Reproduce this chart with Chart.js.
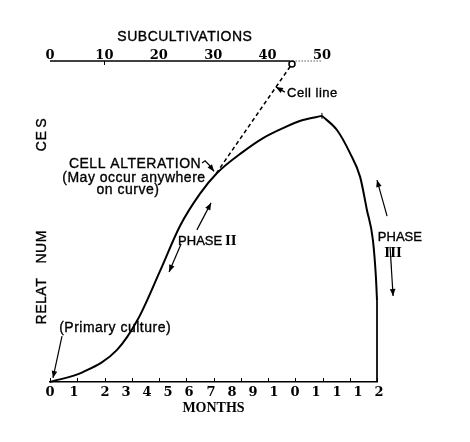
<!DOCTYPE html>
<html>
<head>
<meta charset="utf-8">
<script src="https://cdn.jsdelivr.net/npm/chart.js@4.4.1/dist/chart.umd.min.js"></script>
<style>
  html, body { margin: 0; background: #fff; }
  canvas { display: block; }
</style>
</head>
<body>
<canvas id="hayflick" width="470" height="442"></canvas>
<script>
// growth curve: months in culture vs relative cell number (0-100)
// rising part (phase I + II) up to the peak
const RISE_MONTHS = [0, 1.21, 2.46, 3.23, 4.04, 4.77, 5.50, 6.13, 7.08, 7.82, 8.55, 9.28, 9.98];
const RISE_CELLS  = [0, 3.1, 10.0, 19.6, 34.6, 48.6, 58.6, 65.1, 71.7, 76.0, 79.1, 81.6, 82.9];
// falling part (phase III) from the peak
const FALL_MONTHS = [9.98, 10.53, 11.01, 11.38, 11.63, 11.85, 11.96, 12.0];
const FALL_CELLS  = [82.9, 78.5, 71.3, 63.9, 53.6, 44.2, 32.7, 25.5];

// phase III tail drops straight to the axis
const DROP_MONTHS = [12, 12];
const DROP_CELLS  = [25.5, 0];

// cell line branch (dashed) from the alteration point up to the top scale
const CELL_LINE_MONTHS = [6.10, 8.88];
const CELL_LINE_CELLS  = [65.0, 99.1];

// subcultivation scale on top
const SUB_TICKS  = [0, 10, 20, 30, 40, 50];
const SUB_SOLID  = [0, 44.1];
const SUB_DOTTED = [44.6, 50];

// months scale at the bottom (labels as printed)
const MONTH_TICKS    = [0, 1, 2, 3, 4, 5, 6, 7, 8, 9, 10, 11, 12];
const MONTH_LABELS   = ['0', '1', '2', '3', '4', '5', '6', '7', '8', '9', '1', '0', '1', '1', '1', '2'];
const MONTH_LABEL_AT = [0, 0.88, 2.02, 2.79, 3.56, 4.33, 5.10, 5.91, 6.68, 7.45, 8.22, 8.99, 9.76, 10.53, 11.30, 12.07];

const SANS = '"Liberation Sans", Arial, sans-serif';
const DIGITS = '"DejaVu Serif", serif';
const SERIF = '"Liberation Serif", "Times New Roman", serif';

const pts = (xs, ys) => xs.map((x, i) => ({ x, y: ys[i] }));

// text and arrows, anchored in data units
const TEXTS = [
  { t: 'SUBCULTIVATIONS', m: 4.95, v: 107.5, align: 'center', size: 14 },
  { t: 'RELAT', m: -0.29, v: 25.2, rot: true, size: 14 },
  { t: 'NUM', m: -0.29, v: 42.1, rot: true, size: 14 },
  { t: 'CE', m: -0.29, v: 75.1, rot: true, size: 14 },
  { t: 'S', m: -0.29, v: 80.7, rot: true, size: 14 },
  { t: 'Cell line', m: 8.70, v: 90.0, align: 'left', size: 13 },
  { t: 'CELL ALTERATION', m: 3.12, v: 67.9, align: 'center', size: 14 },
  { t: '(May occur anywhere', m: 3.08, v: 63.6, align: 'center', size: 14 },
  { t: 'on curve)', m: 2.86, v: 59.8, align: 'center', size: 14 },
  { t: 'PHASE', m: 4.70, v: 43.9, align: 'left', size: 13, tight: true },
  { t: 'II', m: 6.42, v: 43.9, align: 'left', serif: true },
  { t: 'PHASE', m: 12.84, v: 44.9, align: 'center', size: 13, tight: true },
  { t: 'III', m: 12.59, v: 40.2, align: 'center', serif: true },
  { t: '(Primary culture)', m: 2.39, v: 16.8, align: 'center', size: 14 },
];

const ARROWS = [
  [[0.44, 14.3], [0.11, 1.25]],
  [[8.62, 90.3], [8.29, 91.9]],
  [[5.58, 68.2], [5.69, 68.9], [5.84, 67.6], [6.02, 65.6]],
  [[5.39, 47.4], [5.91, 55.8]],
  [[4.81, 43.0], [4.37, 34.3]],
  [[12.37, 51.7], [12.0, 62.9]],
  [[12.48, 42.1], [12.59, 26.8]],
];

function arrowHead(ctx, x0, y0, x1, y1) {
  const a = Math.atan2(y1 - y0, x1 - x0), len = 7, w = 2.8;
  ctx.beginPath();
  ctx.moveTo(x1, y1);
  ctx.lineTo(x1 - len * Math.cos(a) + w * Math.sin(a), y1 - len * Math.sin(a) - w * Math.cos(a));
  ctx.lineTo(x1 - len * Math.cos(a) - w * Math.sin(a), y1 - len * Math.sin(a) + w * Math.cos(a));
  ctx.closePath();
  ctx.fill();
}

const notes = {
  id: 'notes',
  afterDraw(chart) {
    const { ctx, scales: { x, y, xTop } } = chart;
    ctx.save();
    ctx.fillStyle = '#000';
    ctx.strokeStyle = '#000';

    // inward month ticks and the one tick under "10"
    ctx.lineWidth = 1;
    const y0 = y.getPixelForValue(0), yTop = y.getPixelForValue(100);
    MONTH_TICKS.forEach(m => {
      const px = Math.round(x.getPixelForValue(m)) + 0.5;
      ctx.beginPath(); ctx.moveTo(px, y0); ctx.lineTo(px, y0 - 4); ctx.stroke();
    });
    const t10 = Math.round(xTop.getPixelForValue(10)) + 0.5;
    ctx.beginPath(); ctx.moveTo(t10, yTop); ctx.lineTo(t10, yTop + 4); ctx.stroke();

    // hand lettering is heavier than the font, so stroke it lightly too
    ctx.textBaseline = 'middle';
    TEXTS.forEach(n => {
      const px = x.getPixelForValue(n.m), py = y.getPixelForValue(n.v);
      ctx.font = n.serif ? `bold 15px ${SERIF}` : `${n.size}px ${SANS}`;
      ctx.letterSpacing = n.serif || n.tight ? '0px' : '0.5px';
      ctx.lineWidth = 0.35;
      if (n.rot) {
        ctx.save();
        ctx.translate(px, py);
        ctx.rotate(-Math.PI / 2);
        ctx.textAlign = 'center';
        ctx.fillText(n.t, 0, 0);
        ctx.strokeText(n.t, 0, 0);
        ctx.restore();
      } else {
        ctx.textAlign = n.align;
        ctx.fillText(n.t, px, py);
        if (!n.serif) ctx.strokeText(n.t, px, py);
      }
    });
    ctx.letterSpacing = '0px';

    ctx.lineWidth = 1.2;
    ARROWS.forEach(a => {
      const p = a.map(([m, v]) => [x.getPixelForValue(m), y.getPixelForValue(v)]);
      ctx.beginPath();
      ctx.moveTo(p[0][0], p[0][1]);
      p.slice(1).forEach(q => ctx.lineTo(q[0], q[1]));
      ctx.stroke();
      const n = p.length;
      arrowHead(ctx, p[n - 2][0], p[n - 2][1], p[n - 1][0], p[n - 1][1]);
    });
    ctx.restore();
  }
};

new Chart(document.getElementById('hayflick'), {
  type: 'line',
  data: {
    datasets: [
      {
        data: pts(RISE_MONTHS, RISE_CELLS),
        borderColor: '#000', borderWidth: 2,
        cubicInterpolationMode: 'monotone', pointRadius: 0, clip: false,
      },
      {
        data: pts(FALL_MONTHS, FALL_CELLS),
        borderColor: '#000', borderWidth: 2,
        cubicInterpolationMode: 'monotone',
        pointRadius: c => c.dataIndex === 0 ? 3 : 0,
        pointStyle: 'line', rotation: 90,
        pointBorderColor: '#000', pointBorderWidth: 1,
        clip: false,
      },
      {
        data: pts(DROP_MONTHS, DROP_CELLS),
        borderColor: '#000', borderWidth: 1, pointRadius: 0, clip: false,
      },
      {
        data: pts(CELL_LINE_MONTHS, CELL_LINE_CELLS),
        borderColor: '#000', borderWidth: 1.5, borderDash: [4, 3],
        pointRadius: [0, 3], pointStyle: 'circle',
        pointBackgroundColor: '#fff', pointBorderColor: '#000', pointBorderWidth: 1.5,
        clip: false,
      },
      {
        xAxisID: 'xTop',
        data: SUB_SOLID.map(s => ({ x: s, y: 100 })),
        borderColor: '#000', borderWidth: 1.5, pointRadius: 0, clip: false,
      },
      {
        xAxisID: 'xTop',
        data: SUB_DOTTED.map(s => ({ x: s, y: 100 })),
        borderColor: '#000', borderWidth: 1, borderDash: [1, 2], pointRadius: 0, clip: false,
      },
    ]
  },
  options: {
    responsive: false,
    animation: false,
    devicePixelRatio: 1,
    layout: { padding: { left: 50, right: 93, top: 0, bottom: 0 } },
    plugins: { legend: { display: false }, tooltip: { enabled: false } },
    scales: {
      x: {
        type: 'linear', position: 'bottom', min: 0, max: 12,
        afterBuildTicks: s => { s.ticks = MONTH_LABEL_AT.map(v => ({ value: v })); },
        afterFit: s => { s.height = 60; },
        grid: { display: false, drawTicks: false },
        border: { display: true, color: '#000', width: 1.5 },
        ticks: {
          autoSkip: false, maxRotation: 0, padding: 3, color: '#000',
          font: { family: DIGITS, size: 13, weight: 'bold' },
          callback: (v, i) => MONTH_LABELS[i],
        },
        title: {
          display: true, text: 'MONTHS', color: '#000',
          font: { family: SERIF, size: 14, weight: 'bold' },
          padding: { top: 0, bottom: 25 },
        },
      },
      xTop: {
        type: 'linear', position: 'top', min: 0, max: 60.11,
        afterBuildTicks: s => { s.ticks = SUB_TICKS.map(v => ({ value: v })); },
        afterFit: s => { s.height = 61; },
        grid: { display: false, drawTicks: false },
        border: { display: false },
        ticks: {
          autoSkip: false, maxRotation: 0, padding: -2, color: '#000',
          font: { family: DIGITS, size: 13, weight: 'bold' },
        },
      },
      y: { display: false, min: 0, max: 100 },
    },
  },
  plugins: [notes],
});
</script>
</body>
</html>
